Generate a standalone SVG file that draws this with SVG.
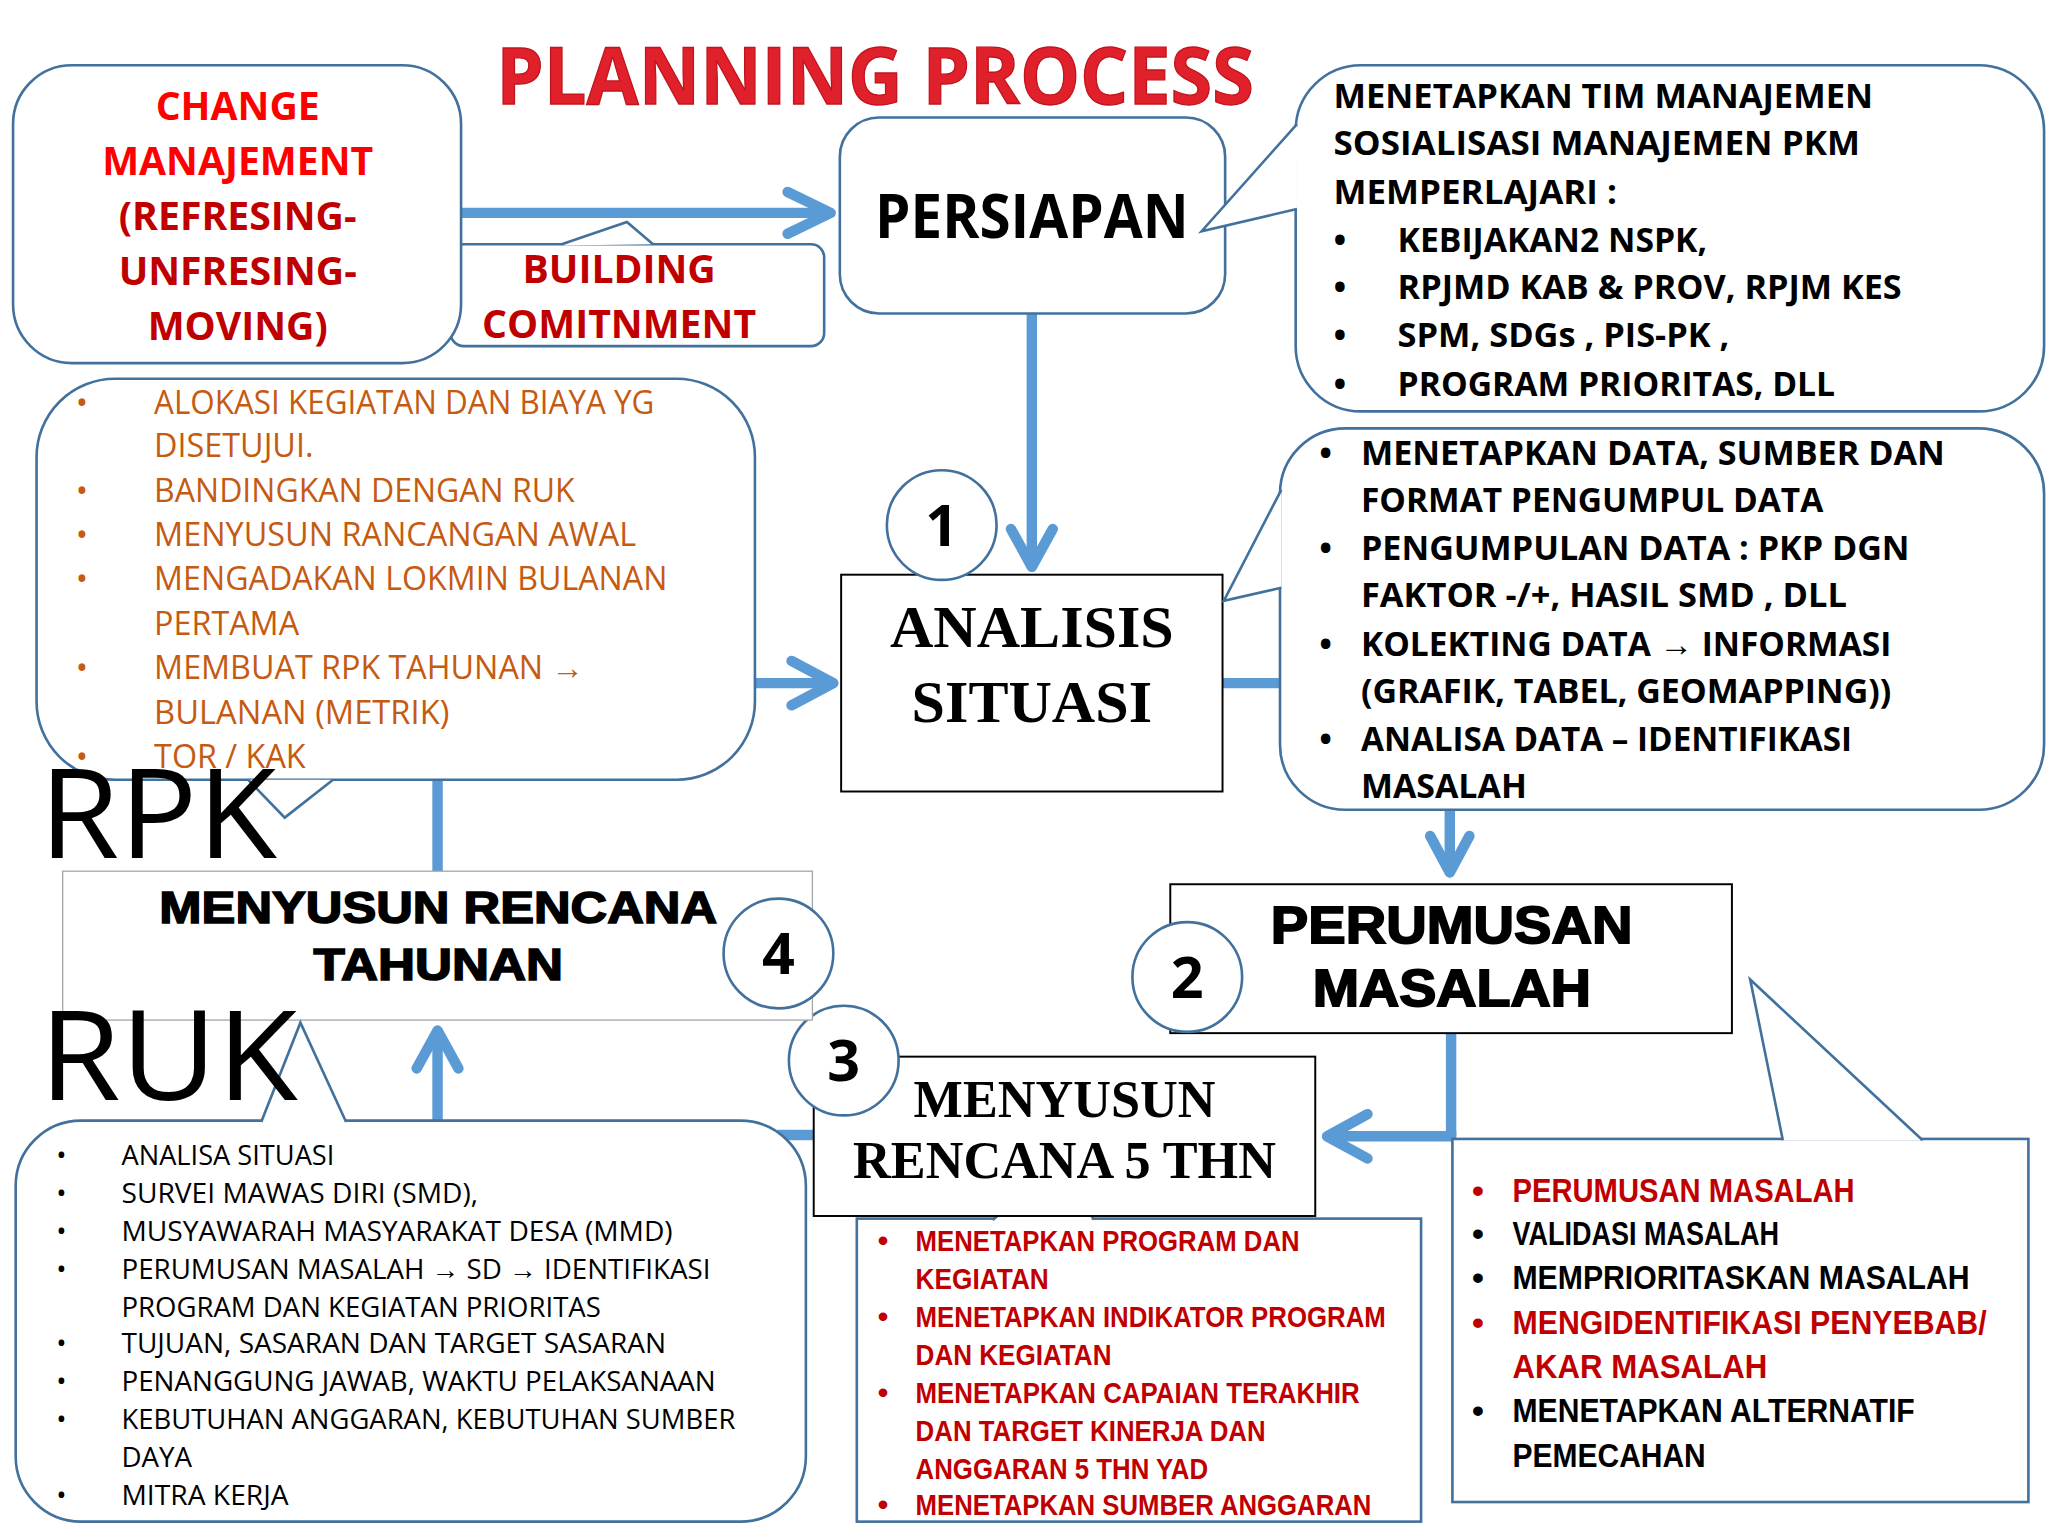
<svg xmlns="http://www.w3.org/2000/svg" width="2048" height="1536" viewBox="0 0 2048 1536">
<style>
.cb{fill:#fff;stroke:#41719c;stroke-width:2}
.bx{fill:#fff;stroke:#000;stroke-width:1.5}
.ar{fill:none;stroke:#5b9bd5;stroke-width:8;stroke-linecap:round;stroke-linejoin:round}
.ln{fill:none;stroke:#5b9bd5;stroke-width:8}
.os{font-family:"Open Sans","Liberation Sans",sans-serif}
.ls{font-family:"Liberation Sans",Arial,sans-serif}
.sf{font-family:"Liberation Serif","Times New Roman",serif;font-weight:bold}
.num{font-family:"Open Sans","Liberation Sans",sans-serif;font-weight:bold;font-size:44px;text-anchor:middle}
.tr{font-size:26px;font-weight:bold;fill:#000}
.or{font-size:25px;fill:#c55a11}
.bl{font-size:21px;fill:#000}
.rd{font-size:23px;font-weight:bold;fill:#c00000}
.br{font-size:26px;font-weight:bold}
</style>
<rect width="2048" height="1536" fill="#fff"/>
<g transform="scale(1.30612)">
<g id="title"><text x="670" y="80" text-anchor="middle" class="os" font-size="60" font-weight="bold" fill="#e0202a" stroke="#c0141c" stroke-width="1" textLength="580" lengthAdjust="spacingAndGlyphs">PLANNING PROCESS</text></g>

<g id="connectors">
<line class="ln" x1="353" y1="163" x2="632" y2="163"/>
<polyline class="ar" points="603,147 636,163 603,179"/>
<line class="ln" x1="790" y1="240" x2="790" y2="430"/>
<polyline class="ar" points="774,405 790,434 806,405"/>
<line class="ln" x1="578" y1="523" x2="634" y2="523"/>
<polyline class="ar" points="606,506 638,523 606,540"/>
<line class="ln" x1="936" y1="523" x2="980" y2="523"/>
<line class="ln" x1="1110" y1="620" x2="1110" y2="665"/>
<polyline class="ar" points="1095,640 1110,668 1125,640"/>
<line class="ln" x1="1111" y1="791" x2="1111" y2="870"/>
<line class="ln" x1="1115" y1="870" x2="1020" y2="870"/>
<polyline class="ar" points="1047,853 1016,870 1047,887"/>
<line class="ln" x1="335" y1="597" x2="335" y2="667"/>
<line class="ln" x1="335" y1="858" x2="335" y2="792"/>
<polyline class="ar" points="319,818 335,789 351,818"/>
<line class="ln" x1="595" y1="869" x2="623" y2="869"/>
</g>

<g id="building">
<rect class="cb" x="345" y="187" width="286" height="78" rx="10"/>
<path d="M430,188 L480,170 L500,187" fill="#fff" stroke="none"/>
<path d="M430,187 L480,170 L500,187" fill="none" stroke="#41719c" stroke-width="2"/>
<text class="os" font-size="30" font-weight="bold" fill="#c00000" text-anchor="middle"><tspan x="474" y="217">BUILDING</tspan><tspan x="474" y="259">COMITNMENT</tspan></text>
</g>

<g id="change">
<rect class="cb" x="10" y="50" width="343" height="228" rx="45"/>
<text class="os" font-size="30" font-weight="bold" text-anchor="middle"><tspan x="182" y="92" fill="#ff0000">CHANGE</tspan><tspan x="182" y="134" fill="#ff0000">MANAJEMENT</tspan><tspan x="182" y="176" fill="#c00000">(REFRESING-</tspan><tspan x="182" y="218" fill="#c00000">UNFRESING-</tspan><tspan x="182" y="260" fill="#c00000">MOVING)</tspan></text>
</g>

<g id="persiapan">
<rect class="cb" x="643" y="90" width="295" height="150" rx="30"/>
<text x="790" y="182" text-anchor="middle" class="os" font-size="46" font-weight="bold" textLength="240" lengthAdjust="spacingAndGlyphs">PERSIAPAN</text>
</g>

<g id="top-right">
<rect class="cb" x="992" y="50" width="573" height="265" rx="50"/>
<path d="M993,95 L920,177 L993,160" fill="#fff" stroke="#41719c" stroke-width="2"/>
<text class="os tr">
<tspan x="1021" y="83" textLength="413" lengthAdjust="spacingAndGlyphs">MENETAPKAN TIM MANAJEMEN</tspan>
<tspan x="1021" y="119" textLength="403" lengthAdjust="spacingAndGlyphs">SOSIALISASI  MANAJEMEN PKM</tspan>
<tspan x="1021" y="156" textLength="217" lengthAdjust="spacingAndGlyphs">MEMPERLAJARI :</tspan>
<tspan x="1021" y="193">•</tspan><tspan x="1070" y="193" textLength="237" lengthAdjust="spacingAndGlyphs">KEBIJAKAN2 NSPK,</tspan>
<tspan x="1021" y="229">•</tspan><tspan x="1070" y="229" textLength="386" lengthAdjust="spacingAndGlyphs">RPJMD KAB &amp; PROV, RPJM KES</tspan>
<tspan x="1021" y="266">•</tspan><tspan x="1070" y="266" textLength="254" lengthAdjust="spacingAndGlyphs">SPM, SDGs , PIS-PK ,</tspan>
<tspan x="1021" y="303">•</tspan><tspan x="1070" y="303" textLength="335" lengthAdjust="spacingAndGlyphs">PROGRAM PRIORITAS, DLL</tspan>
</text>
</g>

<g id="rpk-box">
<rect class="cb" x="28" y="290" width="550" height="307" rx="60"/>
<path d="M255,597 L218,626 L190,597" fill="#fff" stroke="#41719c" stroke-width="2"/>
<text class="os or">
<tspan x="58" y="317">•</tspan><tspan x="118" y="317" textLength="383" lengthAdjust="spacingAndGlyphs">ALOKASI KEGIATAN DAN BIAYA YG</tspan>
<tspan x="118" y="350" textLength="122" lengthAdjust="spacingAndGlyphs">DISETUJUI.</tspan>
<tspan x="58" y="384">•</tspan><tspan x="118" y="384" textLength="322" lengthAdjust="spacingAndGlyphs">BANDINGKAN DENGAN RUK</tspan>
<tspan x="58" y="418">•</tspan><tspan x="118" y="418" textLength="369" lengthAdjust="spacingAndGlyphs">MENYUSUN RANCANGAN AWAL</tspan>
<tspan x="58" y="452">•</tspan><tspan x="118" y="452" textLength="393" lengthAdjust="spacingAndGlyphs">MENGADAKAN LOKMIN BULANAN</tspan>
<tspan x="118" y="486" textLength="111" lengthAdjust="spacingAndGlyphs">PERTAMA</tspan>
<tspan x="58" y="520">•</tspan><tspan x="118" y="520" textLength="329" lengthAdjust="spacingAndGlyphs">MEMBUAT RPK TAHUNAN →</tspan>
<tspan x="118" y="554" textLength="226" lengthAdjust="spacingAndGlyphs">BULANAN (METRIK)</tspan>
<tspan x="58" y="588">•</tspan><tspan x="118" y="588" textLength="116" lengthAdjust="spacingAndGlyphs">TOR / KAK</tspan>
</text>
</g>

<g id="analisis">
<rect class="bx" x="644" y="440" width="292" height="166"/>
<text class="sf" font-size="46" text-anchor="middle"><tspan x="790" y="495">ANALISIS</tspan><tspan x="790" y="553">SITUASI</tspan></text>
<circle class="cb" cx="721" cy="402" r="42"/>
<text x="721" y="418" class="num">1</text>
</g>

<g id="mid-right">
<rect class="cb" x="980" y="328" width="585" height="292" rx="50"/>
<path d="M981,375 L937,460 L981,450" fill="#fff" stroke="#41719c" stroke-width="2"/>
<text class="os tr">
<tspan x="1010" y="356">•</tspan><tspan x="1042" y="356" textLength="447" lengthAdjust="spacingAndGlyphs">MENETAPKAN DATA, SUMBER  DAN</tspan>
<tspan x="1042" y="392" textLength="354" lengthAdjust="spacingAndGlyphs">FORMAT PENGUMPUL DATA</tspan>
<tspan x="1010" y="429">•</tspan><tspan x="1042" y="429" textLength="420" lengthAdjust="spacingAndGlyphs">PENGUMPULAN DATA : PKP  DGN</tspan>
<tspan x="1042" y="465" textLength="372" lengthAdjust="spacingAndGlyphs">FAKTOR -/+,  HASIL SMD , DLL</tspan>
<tspan x="1010" y="502">•</tspan><tspan x="1042" y="502" textLength="406" lengthAdjust="spacingAndGlyphs">KOLEKTING DATA → INFORMASI</tspan>
<tspan x="1042" y="538" textLength="406" lengthAdjust="spacingAndGlyphs">(GRAFIK, TABEL, GEOMAPPING))</tspan>
<tspan x="1010" y="575">•</tspan><tspan x="1042" y="575" textLength="376" lengthAdjust="spacingAndGlyphs">ANALISA DATA – IDENTIFIKASI</tspan>
<tspan x="1042" y="611" textLength="127" lengthAdjust="spacingAndGlyphs">MASALAH</tspan>
</text>
</g>

<g id="perumusan">
<rect class="bx" x="896" y="677" width="430" height="114"/>
<text class="ls" font-size="40" font-weight="900" stroke="#000" stroke-width="1.4"><tspan x="973" y="722" textLength="277" lengthAdjust="spacingAndGlyphs">PERUMUSAN</tspan><tspan x="1005" y="770" textLength="213" lengthAdjust="spacingAndGlyphs">MASALAH</tspan></text>
<circle class="cb" cx="909" cy="748" r="42"/>
<text x="909" y="764" class="num">2</text>
</g>

<g id="bottom-right">
<rect x="1112" y="872" width="441" height="278" fill="#fff" stroke="#41719c" stroke-width="2"/>
<path d="M1365,873 L1340,750 L1472,873" fill="#fff" stroke="#41719c" stroke-width="2"/>
<text class="ls br">
<tspan x="1127" y="920" fill="#c00000">•</tspan><tspan x="1158" y="920" fill="#c00000" textLength="262" lengthAdjust="spacingAndGlyphs">PERUMUSAN MASALAH</tspan>
<tspan x="1127" y="953">•</tspan><tspan x="1158" y="953" textLength="204" lengthAdjust="spacingAndGlyphs">VALIDASI MASALAH</tspan>
<tspan x="1127" y="987">•</tspan><tspan x="1158" y="987" textLength="350" lengthAdjust="spacingAndGlyphs">MEMPRIORITASKAN MASALAH</tspan>
<tspan x="1127" y="1021" fill="#c00000">•</tspan><tspan x="1158" y="1021" fill="#c00000" textLength="363" lengthAdjust="spacingAndGlyphs">MENGIDENTIFIKASI PENYEBAB/</tspan>
<tspan x="1158" y="1055" fill="#c00000" textLength="195" lengthAdjust="spacingAndGlyphs">AKAR  MASALAH</tspan>
<tspan x="1127" y="1089">•</tspan><tspan x="1158" y="1089" textLength="308" lengthAdjust="spacingAndGlyphs">MENETAPKAN ALTERNATIF</tspan>
<tspan x="1158" y="1123" textLength="148" lengthAdjust="spacingAndGlyphs">PEMECAHAN</tspan>
</text>
</g>

<g id="lima-thn-list">
<rect x="656" y="933" width="432" height="232" fill="#fff" stroke="#41719c" stroke-width="2"/>
<path d="M760,934 L822,882 L837,934" fill="#fff" stroke="#41719c" stroke-width="2"/>
<text class="ls rd">
<tspan x="672" y="958">•</tspan><tspan x="701" y="958" textLength="294" lengthAdjust="spacingAndGlyphs">MENETAPKAN PROGRAM DAN</tspan>
<tspan x="701" y="987" textLength="102" lengthAdjust="spacingAndGlyphs">KEGIATAN</tspan>
<tspan x="672" y="1016">•</tspan><tspan x="701" y="1016" textLength="360" lengthAdjust="spacingAndGlyphs">MENETAPKAN INDIKATOR PROGRAM</tspan>
<tspan x="701" y="1045" textLength="150" lengthAdjust="spacingAndGlyphs">DAN KEGIATAN</tspan>
<tspan x="672" y="1074">•</tspan><tspan x="701" y="1074" textLength="340" lengthAdjust="spacingAndGlyphs">MENETAPKAN CAPAIAN TERAKHIR</tspan>
<tspan x="701" y="1103" textLength="268" lengthAdjust="spacingAndGlyphs">DAN TARGET KINERJA DAN</tspan>
<tspan x="701" y="1132" textLength="224" lengthAdjust="spacingAndGlyphs">ANGGARAN 5 THN YAD</tspan>
<tspan x="672" y="1160">•</tspan><tspan x="701" y="1160" textLength="349" lengthAdjust="spacingAndGlyphs">MENETAPKAN SUMBER ANGGARAN</tspan>
</text>
</g>

<g id="lima-thn">
<rect class="bx" x="623" y="809" width="384" height="122"/>
<text class="sf" font-size="40" text-anchor="middle"><tspan x="815" y="855">MENYUSUN</tspan><tspan x="815" y="902">RENCANA 5 THN</tspan></text>
<circle class="cb" cx="646" cy="812" r="42"/>
<text x="646" y="828" class="num">3</text>
</g>

<g id="tahunan">
<rect x="48" y="667" width="574" height="114" fill="#fff" stroke="#a6a6a6" stroke-width="1"/>
<text class="ls" font-size="34" font-weight="900" stroke="#000" stroke-width="1.2"><tspan x="122" y="707" textLength="427" lengthAdjust="spacingAndGlyphs">MENYUSUN RENCANA</tspan><tspan x="240" y="750" textLength="191" lengthAdjust="spacingAndGlyphs">TAHUNAN</tspan></text>
<circle class="cb" cx="596" cy="730" r="42"/>
<text x="596" y="746" class="num">4</text>
</g>

<g id="rpk-label"><text x="30" y="657" class="os" font-size="96" fill="#000" textLength="182" lengthAdjust="spacingAndGlyphs">RPK</text></g>

<g id="ruk-list">
<rect class="cb" x="12" y="858" width="605" height="307" rx="50"/>
<path d="M200,859 L230,783 L265,859" fill="#fff" stroke="#41719c" stroke-width="2"/>
<text class="os bl">
<tspan x="43" y="892">•</tspan><tspan x="93" y="892" textLength="163" lengthAdjust="spacingAndGlyphs">ANALISA SITUASI</tspan>
<tspan x="43" y="921">•</tspan><tspan x="93" y="921" textLength="273" lengthAdjust="spacingAndGlyphs">SURVEI MAWAS DIRI (SMD),</tspan>
<tspan x="43" y="950">•</tspan><tspan x="93" y="950" textLength="422" lengthAdjust="spacingAndGlyphs">MUSYAWARAH MASYARAKAT DESA (MMD)</tspan>
<tspan x="43" y="979">•</tspan><tspan x="93" y="979" textLength="451" lengthAdjust="spacingAndGlyphs">PERUMUSAN MASALAH → SD → IDENTIFIKASI</tspan>
<tspan x="93" y="1008" textLength="367" lengthAdjust="spacingAndGlyphs">PROGRAM DAN KEGIATAN PRIORITAS</tspan>
<tspan x="43" y="1036">•</tspan><tspan x="93" y="1036" textLength="417" lengthAdjust="spacingAndGlyphs">TUJUAN,  SASARAN DAN TARGET SASARAN</tspan>
<tspan x="43" y="1065">•</tspan><tspan x="93" y="1065" textLength="455" lengthAdjust="spacingAndGlyphs">PENANGGUNG JAWAB, WAKTU PELAKSANAAN</tspan>
<tspan x="43" y="1094">•</tspan><tspan x="93" y="1094" textLength="470" lengthAdjust="spacingAndGlyphs">KEBUTUHAN ANGGARAN, KEBUTUHAN SUMBER</tspan>
<tspan x="93" y="1123" textLength="54" lengthAdjust="spacingAndGlyphs">DAYA</tspan>
<tspan x="43" y="1152">•</tspan><tspan x="93" y="1152" textLength="128" lengthAdjust="spacingAndGlyphs">MITRA KERJA</tspan>
</text>
</g>

<g id="ruk-label"><text x="30" y="842" class="os" font-size="96" fill="#000" textLength="198" lengthAdjust="spacingAndGlyphs">RUK</text></g>
</g>
</svg>
